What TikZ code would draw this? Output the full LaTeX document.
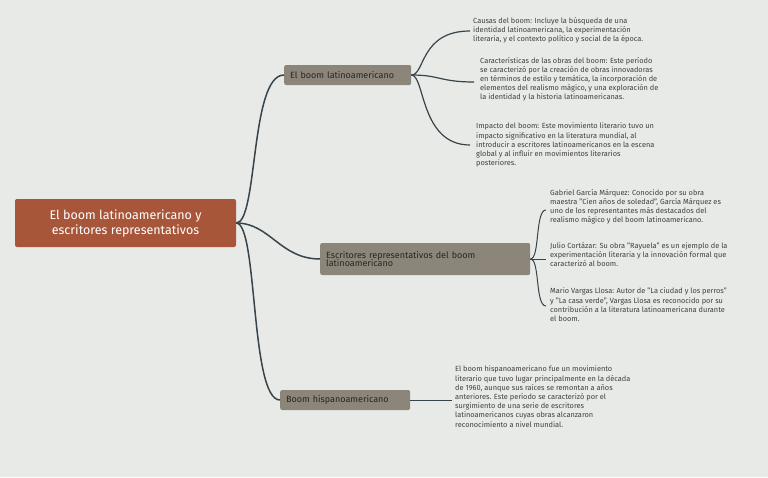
\documentclass[tikz,border=0pt]{standalone}
\usepackage{fontspec}
\setmainfont{Fira Sans}
\begin{document}
\begin{tikzpicture}[x=1pt,y=-1pt,
  conn/.style={draw={rgb,255:red,55;green,68;blue,74}, line width=1.5pt},
  branch/.style={fill={rgb,255:red,140;green,133;blue,122}, rounded corners=2pt, text=black!85, font=\fontsize{9}{10}\selectfont, inner xsep=6pt, align=left, anchor=west},
  leaf/.style={anchor=north west, align=left, text=black!75, font=\fontsize{7.4}{9.2}\selectfont, inner sep=0pt}]
\useasboundingbox[fill={rgb,255:red,232;green,234;blue,231}] (0,0) rectangle (768,477);
\node[fill={rgb,255:red,168;green,86;blue,58}, rounded corners=2pt, minimum width=221pt, minimum height=48pt, text=white, align=center, font=\fontsize{12.5}{15}\selectfont\mdseries] (root) at (125.5,223) {El boom latinoamericano y\\escritores representativos};
\node[branch, minimum height=20pt, text width=115pt] (b1) at (284,75) {El boom latinoamericano};
\node[branch, minimum height=32pt, text width=198pt] (b2) at (320,259) {Escritores representativos del boom\\[-2pt]latinoamericano};
\node[branch, minimum height=20pt, text width=118pt] (b3) at (280,400) {Boom hispanoamericano};
\draw[conn] (root.east) .. controls (258,223) and (250,75) .. (b1.west);
\draw[conn] (root.east) .. controls (270,223) and (280,259) .. (b2.west);
\draw[conn] (root.east) .. controls (258,223) and (250,400) .. (b3.west);
\node[leaf] (l1) at (473,17) {Causas del boom: Incluye la búsqueda de una\\identidad latinoamericana, la experimentación\\literaria, y el contexto político y social de la época.};
\node[leaf] (l2) at (480,57) {Características de las obras del boom: Este período\\se caracterizó por la creación de obras innovadoras\\en términos de estilo y temática, la incorporación de\\elementos del realismo mágico, y una exploración de\\la identidad y la historia latinoamericanas.};
\node[leaf] (l3) at (476,123) {Impacto del boom: Este movimiento literario tuvo un\\impacto significativo en la literatura mundial, al\\introducir a escritores latinoamericanos en la escena\\global y al influir en movimientos literarios\\posteriores.};
\coordinate (c1) at (470,31);
\coordinate (c2) at (474,82);
\coordinate (c3) at (470,145);
\draw[conn, line width=1.2pt] (b1.east) .. controls (425,75) and (420,31) .. (c1);
\draw[conn, line width=1.2pt] (b1.east) .. controls (440,75) and (440,82) .. (c2);
\draw[conn, line width=1.2pt] (b1.east) .. controls (425,75) and (420,145) .. (c3);
\node[leaf] (g1) at (550,189) {Gabriel García Márquez: Conocido por su obra\\maestra "Cien años de soledad", García Márquez es\\uno de los representantes más destacados del\\realismo mágico y del boom latinoamericano.};
\node[leaf] (g2) at (550,242) {Julio Cortázar: Su obra "Rayuela" es un ejemplo de la\\experimentación literaria y la innovación formal que\\caracterizó al boom.};
\node[leaf] (g3) at (550,288) {Mario Vargas Llosa: Autor de "La ciudad y los perros"\\y "La casa verde", Vargas Llosa es reconocido por su\\contribución a la literatura latinoamericana durante\\el boom.};
\coordinate (d1) at (546,210);
\coordinate (d2) at (546,259);
\coordinate (d3) at (546,306);
\draw[conn, line width=1pt] (b2.east) .. controls (540,259) and (535,210) .. (d1);
\draw[conn, line width=1pt] (b2.east) -- (d2);
\draw[conn, line width=1pt] (b2.east) .. controls (540,259) and (535,306) .. (d3);
\node[leaf] (h1) at (455,366) {El boom hispanoamericano fue un movimiento\\literario que tuvo lugar principalmente en la década\\de 1960, aunque sus raíces se remontan a años\\anteriores. Este período se caracterizó por el\\surgimiento de una serie de escritores\\latinoamericanos cuyas obras alcanzaron\\reconocimiento a nivel mundial.};
\coordinate (e1) at (452,400);
\draw[conn, line width=1pt] (b3.east) -- (e1);
\end{tikzpicture}
\end{document}
